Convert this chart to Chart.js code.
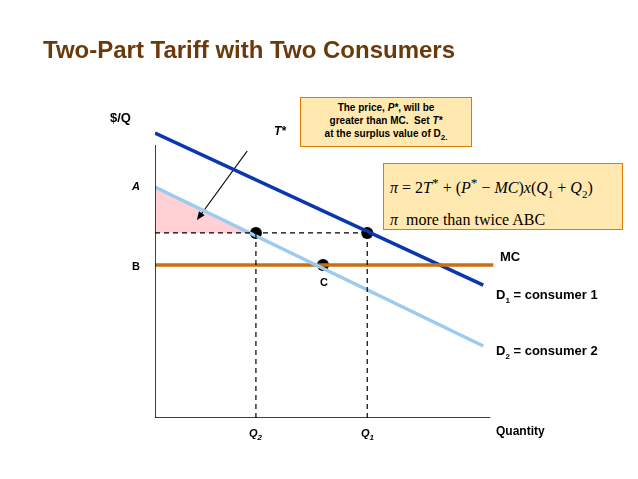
<!DOCTYPE html><html><head><meta charset="utf-8">
<script src="https://cdn.jsdelivr.net/npm/chart.js@4"></script>
<style>
body{margin:0;width:638px;height:479px;position:relative;background:#fff;font-family:Arial,"Liberation Sans",sans-serif;overflow:hidden}
#c{position:absolute;left:0;top:0}
.t{position:absolute;font-weight:bold;font-size:13px;color:#000}
sub{font-size:8px}
</style></head><body>
<canvas id="c" width="638" height="479"></canvas>
<div class="t" style="left:43px;top:36px;font-size:24px;color:#6b3a0b">Two-Part Tariff with Two Consumers</div>
<div class="t" style="left:110px;top:110px;font-size:13px">$/Q</div>
<div class="t" style="left:132px;top:180px;font-size:11px;font-style:italic">A</div>
<div class="t" style="left:132px;top:260px;font-size:11px">B</div>
<div class="t" style="left:320px;top:276px;font-size:11px">C</div>
<div class="t" style="left:274px;top:124px;font-size:12px;font-style:italic">T*</div>
<div class="t" style="left:500px;top:249px;font-size:13px">MC</div>
<div class="t" style="left:496px;top:287px;font-size:13px">D<sub>1</sub> = consumer 1</div>
<div class="t" style="left:496px;top:343px;font-size:13px">D<sub>2</sub> = consumer 2</div>
<div class="t" style="left:249px;top:427px;font-size:11px;font-style:italic">Q<sub>2</sub></div>
<div class="t" style="left:361px;top:427px;font-size:11px;font-style:italic">Q<sub>1</sub></div>
<div class="t" style="left:496px;top:424px;font-size:12px">Quantity</div>
<div class="t" style="left:300px;top:97px;width:172px;height:48px;background:#ffe9b0;border:1px solid #e07b00;font-size:10px;text-align:center;line-height:13px;padding-top:3px;box-sizing:border-box;height:50px">The price, <i>P*</i>, will be<br>greater than MC.&nbsp; Set <i>T*</i><br>at the surplus value of D<sub>2.</sub></div>
<div class="t" style="left:383px;top:163px;width:240px;height:67px;background:#ffe9b0;border:1px solid #e07b00;font-family:'Liberation Serif',serif;font-weight:normal;font-size:16px;line-height:26px;padding:6px 0 0 6px;box-sizing:border-box"><i>π</i> = 2<i>T</i><sup>*</sup> + (<i>P</i><sup>*</sup> − <i>MC</i>)<i>x</i>(<i>Q</i><sub style="font-size:11px">1</sub> + <i>Q</i><sub style="font-size:11px">2</sub>)<br><i>π</i>&nbsp; more than twice ABC</div>
<script>
const d1X=[0,97.9], d1Y=[95,44.3];
const d2X=[0,97.9], d2Y=[77,24];
const mcX=[0,100.9], mcY=[51,51];
const price=61.7, q2=30.1, q1=63.3, cX=50.1;
const triX=[0,0,28.3], triY=[77,61.7,61.7];
const pts=(xs,ys)=>xs.map((x,i)=>({x,y:ys[i]}));
const L=(data,color,w,extra={})=>Object.assign({type:'line',data,borderColor:color,borderWidth:w,pointRadius:0,fill:false,tension:0},extra);
const tri={id:'tri',beforeDatasetsDraw(ch){const x=ch.scales.x,y=ch.scales.y,c=ch.ctx;c.save();c.fillStyle='#ffd0d4';c.beginPath();
triX.forEach((v,i)=>{const px=x.getPixelForValue(v),py=y.getPixelForValue(triY[i]);i?c.lineTo(px,py):c.moveTo(px,py);});c.closePath();c.fill();c.restore();}};
const arrow={id:'arrow',afterDatasetsDraw(ch){const x=ch.scales.x,y=ch.scales.y,c=ch.ctx;
const x1=x.getPixelForValue(12.5),y1=y.getPixelForValue(66),x0=x.getPixelForValue(27.5),y0=y.getPixelForValue(89);
const a=Math.atan2(y1-y0,x1-x0);c.save();c.fillStyle='#000';c.beginPath();c.moveTo(x1,y1);
c.lineTo(x1-9*Math.cos(a-0.4),y1-9*Math.sin(a-0.4));c.lineTo(x1-9*Math.cos(a+0.4),y1-9*Math.sin(a+0.4));c.fill();c.restore();}};
new Chart(document.getElementById('c'),{data:{datasets:[
L(pts([0,0],[0,91]),'#000',1.5),
L(pts([0,100],[0,0]),'#000',1.5),
L(pts([0,q1],[price,price]),'#000',1.2,{borderDash:[5,4]}),
L(pts([q2,q2],[price,0]),'#000',1.2,{borderDash:[5,4]}),
L(pts([q1,q1],[price,0]),'#000',1.2,{borderDash:[5,4]}),
L(pts(d2X,d2Y),'#9dcbef',3.5),
L(pts(mcX,mcY),'#c8700f',3.5),
L(pts(d1X,d1Y),'#0a37b0',3.5),
L(pts([27.5,13.5],[89,67.5]),'#000',1.2),
{type:'scatter',data:pts([q2,q1,cX],[price,price,51]),backgroundColor:'#000',pointRadius:6}
]},options:{responsive:false,animation:false,layout:{padding:{left:155,right:141,top:118,bottom:61}},
plugins:{legend:{display:false},tooltip:{enabled:false}},
scales:{x:{type:'linear',min:0,max:102,display:false},y:{min:0,max:100,display:false}}},plugins:[tri,arrow]});
</script></body></html>
